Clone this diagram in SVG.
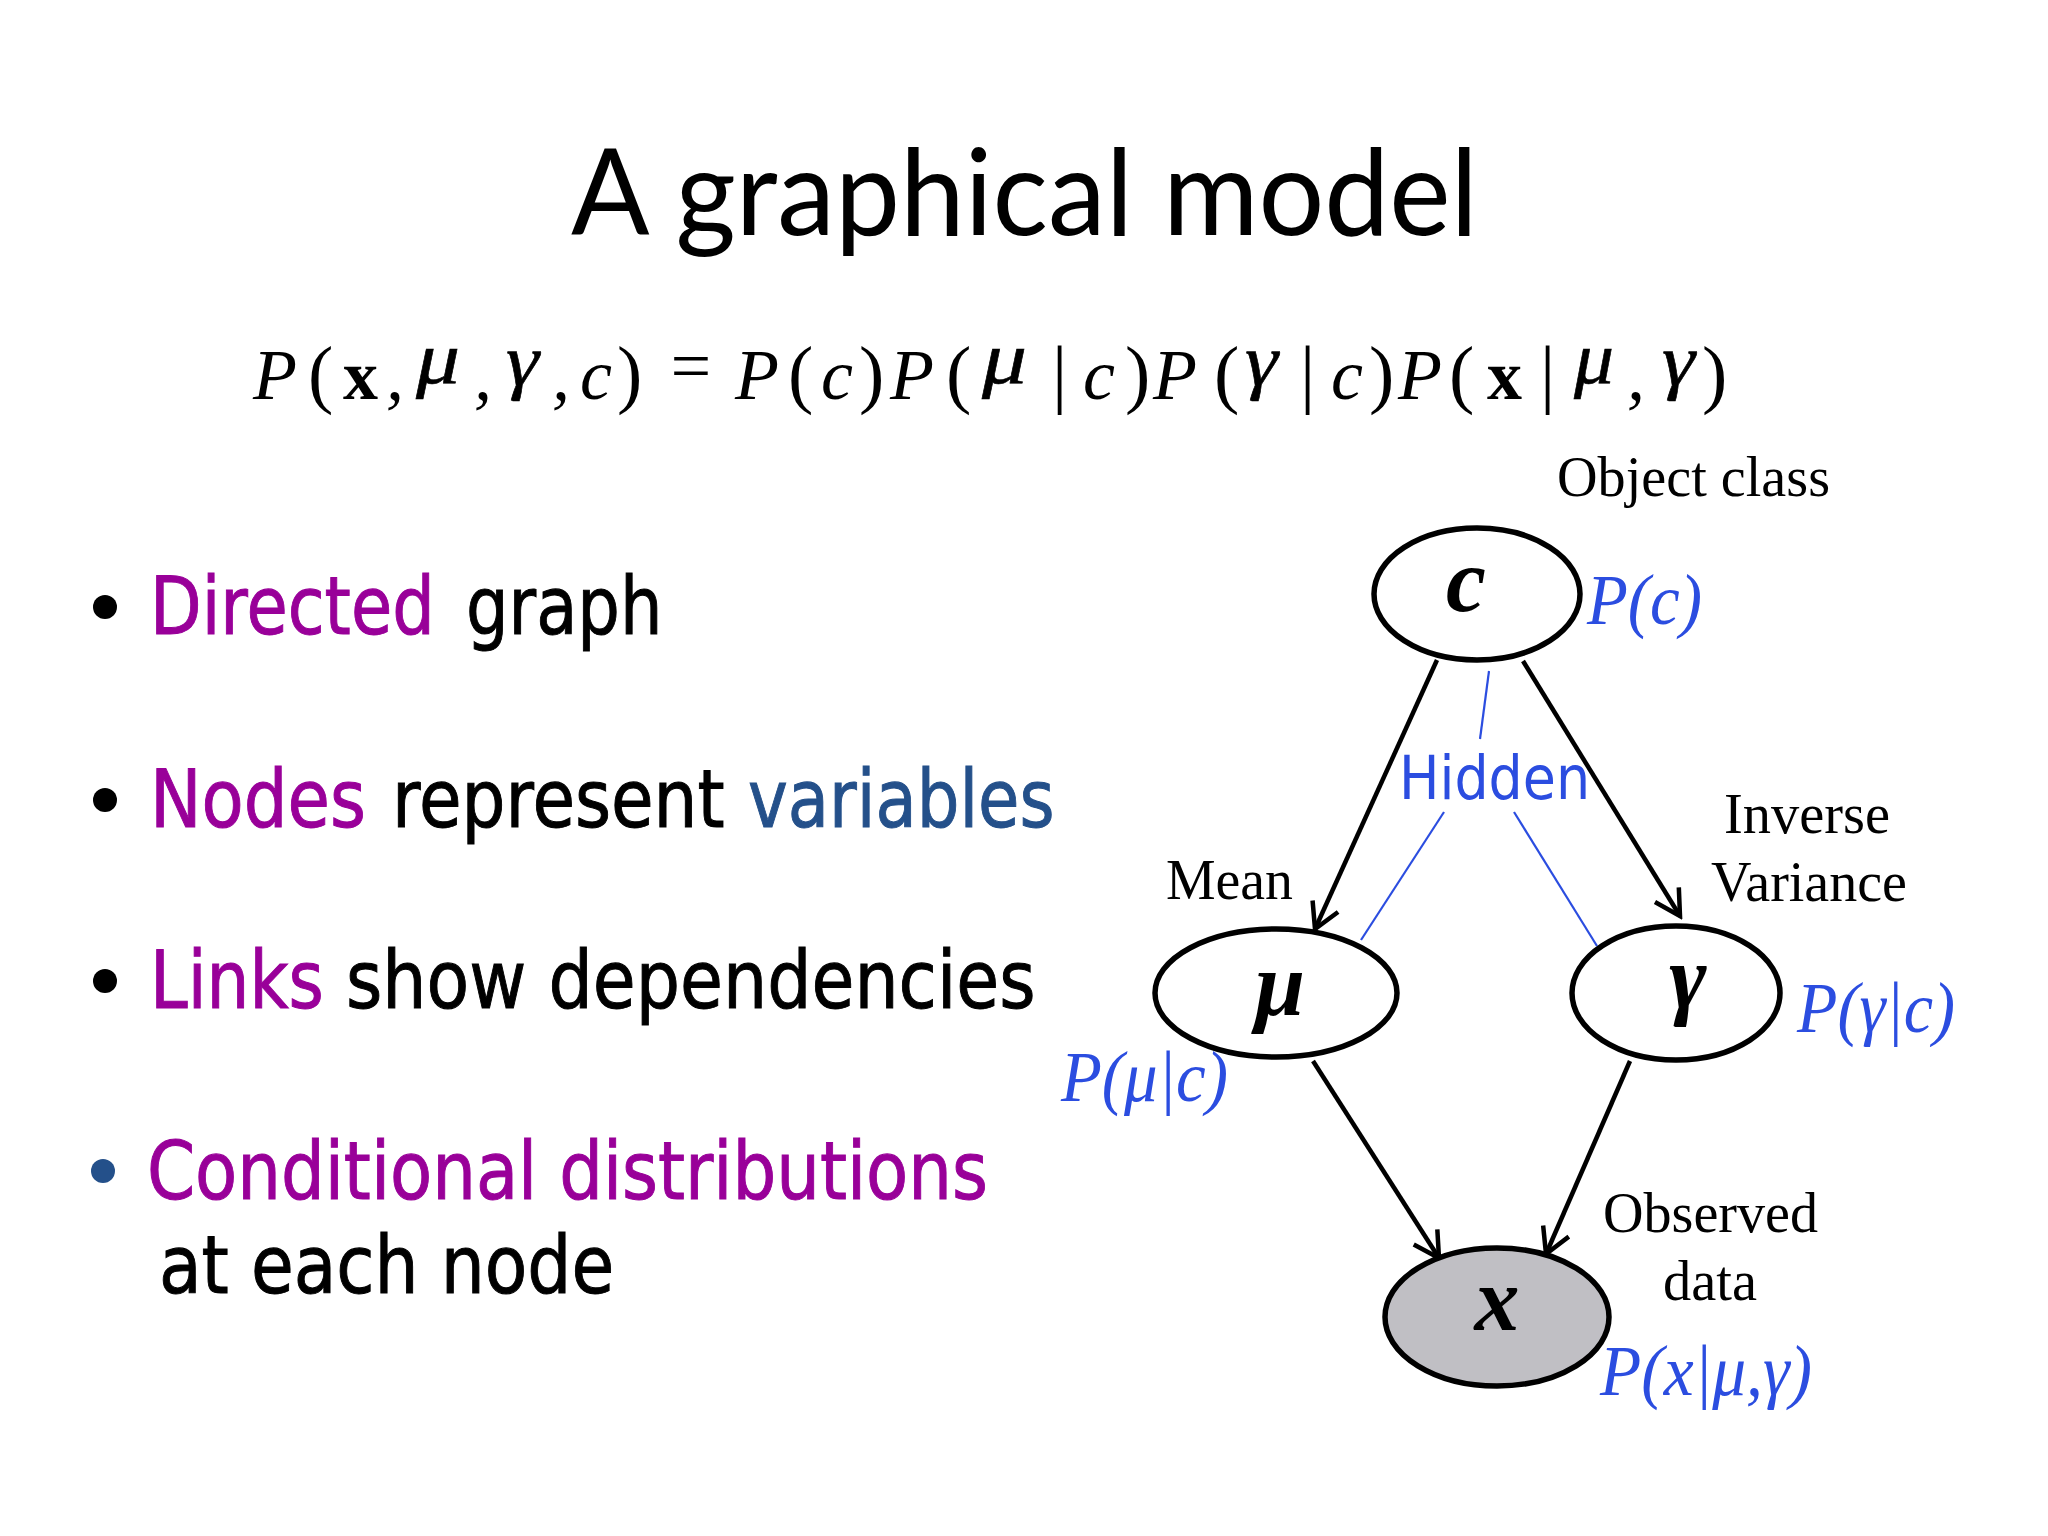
<svg xmlns="http://www.w3.org/2000/svg" width="2048" height="1536" viewBox="0 0 2048 1536">
<style>
.title{font-family:Lato,"Open Sans",sans-serif;font-size:120px;fill:#000}
.eq{font-family:"Liberation Serif",serif;font-style:italic;font-size:72px;fill:#000}
.eqb{font-family:"Liberation Serif",serif;font-weight:bold;font-size:70px;fill:#000}
.eqg{font-family:"Liberation Serif",serif;font-style:italic;font-size:74px;fill:#000;stroke:#000;stroke-width:0.6}
.eqp{font-family:"Liberation Serif",serif;font-size:76px;fill:#000}
.bul{font-family:"DejaVu Sans",sans-serif;font-size:80px;stroke-width:1}
.pur{fill:#990099;stroke:#990099}
.blk{fill:#000;stroke:#000}
.dblue{fill:#24508a;stroke:#24508a}
.lab{font-family:"Liberation Serif",serif;font-size:56px;fill:#000}
.prob{font-family:"Liberation Serif",serif;font-style:italic;font-size:72px;fill:#2b4de0}
.hid{font-family:"DejaVu Sans",sans-serif;font-size:60px;fill:#2b4de0}
.node{stroke:#000;stroke-width:5.5;fill:#fff}
.var{font-family:"Liberation Serif",serif;font-style:italic;font-weight:bold;font-size:90px;fill:#000;text-anchor:middle}
.edge{stroke:#000;stroke-width:4.5;fill:none;marker-end:url(#arr)}
.hline{stroke:#2b4de0;stroke-width:2.2;fill:none}
</style>
<defs>
<marker id="arr" viewBox="0 0 34 34" refX="30" refY="17" markerWidth="34" markerHeight="34" markerUnits="userSpaceOnUse" orient="auto">
<path d="M5,3 L30,17 L5,31" fill="none" stroke="#000" stroke-width="4.5"/>
</marker>
</defs>
<rect width="2048" height="1536" fill="#fff"/>

<text class="title" x="571" y="235" textLength="907" lengthAdjust="spacingAndGlyphs">A graphical model</text>

<g id="equation">
<text class="eq" x="253" y="399">P</text>
<text class="eqp" x="308" y="399">(</text>
<text class="eqb" x="343" y="399">x</text>
<text class="eq" x="386" y="399">,</text>
<text class="eqg" x="416" y="383" textLength="44" lengthAdjust="spacingAndGlyphs">μ</text>
<text class="eq" x="474" y="399">,</text>
<text class="eqg" x="506" y="385" textLength="33" lengthAdjust="spacingAndGlyphs">γ</text>
<text class="eq" x="552" y="399">,</text>
<text class="eq" x="580" y="399">c</text>
<text class="eqp" x="617" y="399">)</text>
<text class="eq" x="666" y="390" font-style="normal">=</text>
<text class="eq" x="735" y="399">P</text>
<text class="eqp" x="788" y="399">(</text>
<text class="eq" x="821" y="399">c</text>
<text class="eqp" x="859" y="399">)</text>
<text class="eq" x="890" y="399">P</text>
<text class="eqp" x="946" y="399">(</text>
<text class="eqg" x="982" y="383" textLength="45" lengthAdjust="spacingAndGlyphs">μ</text>
<text class="eqp" x="1052" y="399">|</text>
<text class="eq" x="1083" y="399">c</text>
<text class="eqp" x="1125" y="399">)</text>
<text class="eq" x="1153" y="399">P</text>
<text class="eqp" x="1214" y="399">(</text>
<text class="eqg" x="1245" y="385" textLength="33" lengthAdjust="spacingAndGlyphs">γ</text>
<text class="eqp" x="1300" y="399">|</text>
<text class="eq" x="1331" y="399">c</text>
<text class="eqp" x="1369" y="399">)</text>
<text class="eq" x="1398" y="399">P</text>
<text class="eqp" x="1449" y="399">(</text>
<text class="eqb" x="1487" y="399">x</text>
<text class="eqp" x="1540" y="399">|</text>
<text class="eqg" x="1574" y="383" textLength="40" lengthAdjust="spacingAndGlyphs">μ</text>
<text class="eq" x="1627" y="399">,</text>
<text class="eqg" x="1662" y="385" textLength="33" lengthAdjust="spacingAndGlyphs">γ</text>
<text class="eqp" x="1702" y="399">)</text>
</g>

<g id="bullets">
<circle cx="105" cy="607" r="12" fill="#000"/>
<text class="bul pur" transform="translate(150,634) scale(0.84,1)" textLength="339" lengthAdjust="spacingAndGlyphs">Directed</text>
<text class="bul blk" transform="translate(466,634) scale(0.84,1)" textLength="234" lengthAdjust="spacingAndGlyphs">graph</text>
<circle cx="105" cy="800" r="12" fill="#000"/>
<text class="bul pur" transform="translate(150,827) scale(0.84,1)" textLength="257" lengthAdjust="spacingAndGlyphs">Nodes</text>
<text class="bul blk" transform="translate(392,827) scale(0.84,1)" textLength="396" lengthAdjust="spacingAndGlyphs">represent</text>
<text class="bul dblue" transform="translate(748,827) scale(0.84,1)" textLength="365" lengthAdjust="spacingAndGlyphs">variables</text>
<circle cx="105" cy="981" r="12" fill="#000"/>
<text class="bul pur" transform="translate(150,1008) scale(0.84,1)" textLength="207" lengthAdjust="spacingAndGlyphs">Links</text>
<text class="bul blk" transform="translate(346,1008) scale(0.84,1)" textLength="821" lengthAdjust="spacingAndGlyphs">show dependencies</text>
<circle cx="103" cy="1171" r="12" fill="#24508a"/>
<text class="bul pur" transform="translate(147,1199) scale(0.84,1)" textLength="1001" lengthAdjust="spacingAndGlyphs">Conditional distributions</text>
<text class="bul blk" transform="translate(159,1293) scale(0.84,1)" textLength="542" lengthAdjust="spacingAndGlyphs">at each node</text>
</g>

<g id="connectors">
<line class="edge" x1="1437" y1="660" x2="1315" y2="929"/>
<line class="edge" x1="1523" y1="661" x2="1680" y2="916"/>
<line class="edge" x1="1313" y1="1061" x2="1439" y2="1258"/>
<line class="edge" x1="1630" y1="1061" x2="1546" y2="1254"/>
<line class="hline" x1="1489" y1="671" x2="1480" y2="739"/>
<line class="hline" x1="1444" y1="812" x2="1361" y2="940"/>
<line class="hline" x1="1514" y1="812" x2="1597" y2="946"/>
</g>

<g id="node-c">
<ellipse class="node" cx="1477" cy="594" rx="103" ry="66"/>
<text class="var" x="1466" y="611">c</text>
</g>
<g id="node-mu">
<ellipse class="node" cx="1276" cy="993" rx="121" ry="64"/>
<text class="var" x="1280" y="1015">μ</text>
</g>
<g id="node-gamma">
<ellipse class="node" cx="1676" cy="993" rx="104" ry="67"/>
<text class="var" x="1688" y="1008">γ</text>
</g>
<g id="node-x">
<ellipse class="node" cx="1497" cy="1317" rx="112" ry="69" style="fill:#c0bfc4"/>
<text class="var" x="1497" y="1330">x</text>
</g>

<g id="labels">
<text class="lab" x="1557" y="496" textLength="273" lengthAdjust="spacingAndGlyphs">Object class</text>
<text class="prob" x="1587" y="624" textLength="115" lengthAdjust="spacingAndGlyphs">P(c)</text>
<text class="hid" x="1399" y="799" textLength="191" lengthAdjust="spacingAndGlyphs">Hidden</text>
<text class="lab" x="1166" y="899" textLength="127" lengthAdjust="spacingAndGlyphs">Mean</text>
<text class="lab" x="1724" y="833" textLength="166" lengthAdjust="spacingAndGlyphs">Inverse</text>
<text class="lab" x="1711" y="901" textLength="196" lengthAdjust="spacingAndGlyphs">Variance</text>
<text class="prob" x="1797" y="1032" textLength="158" lengthAdjust="spacingAndGlyphs">P(γ|c)</text>
<text class="prob" x="1061" y="1101" textLength="167" lengthAdjust="spacingAndGlyphs">P(μ|c)</text>
<text class="lab" x="1603" y="1232" textLength="215" lengthAdjust="spacingAndGlyphs">Observed</text>
<text class="lab" x="1663" y="1300" textLength="94" lengthAdjust="spacingAndGlyphs">data</text>
<text class="prob" x="1600" y="1395" textLength="212" lengthAdjust="spacingAndGlyphs">P(x|μ,γ)</text>
</g>
</svg>
